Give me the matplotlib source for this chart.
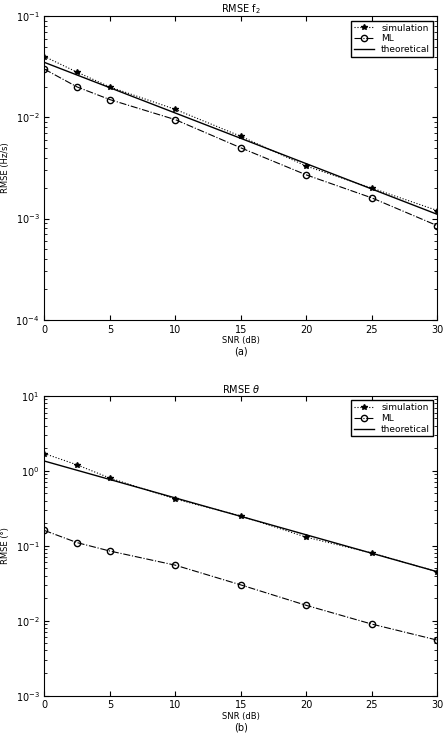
import matplotlib.pyplot as plt

snr = [0, 2.5, 5, 10, 15, 20, 25, 30]
snr_theo = [0, 30]

# top panel: RMSE f2
sim_f = [0.04, 0.028, 0.02, 0.012, 0.0065, 0.0033, 0.002, 0.0012]
ml_f = [0.03, 0.02, 0.015, 0.0095, 0.005, 0.0027, 0.0016, 0.00085]
theo_f = [0.035, 0.0011]

# bottom panel: RMSE theta
sim_t = [1.7, 1.2, 0.8, 0.42, 0.25, 0.13, 0.08, 0.045]
ml_t = [0.16, 0.11, 0.085, 0.055, 0.03, 0.016, 0.009, 0.0055]
theo_t = [1.35, 0.045]

plt.rcParams['font.family'] = 'DejaVu Sans'
plt.rcParams['font.size'] = 7

fig = plt.figure(figsize=(4.44, 7.40), dpi=100)
ax1 = fig.add_axes([0.10, 0.568, 0.885, 0.41])
ax2 = fig.add_axes([0.10, 0.06, 0.885, 0.405])

def panel(ax, sim, ml, theo, ylim, title, ylabel, xlabel, tag):
    ax.semilogy(snr, sim, 'k*:', ms=4, lw=0.8, label='simulation')
    ax.semilogy(snr, ml, 'ko-.', ms=4.5, mfc='none', lw=0.8, label='ML')
    ax.semilogy(snr_theo, theo, 'k-', lw=1.0, label='theoretical')
    ax.set_xlim(0, 30)
    ax.set_ylim(*ylim)
    ax.set_xticks([0, 5, 10, 15, 20, 25, 30])
    ax.set_title(title, fontsize=7, pad=2)
    ax.set_ylabel(ylabel, fontsize=6)
    ax.set_xlabel(xlabel, fontsize=6, labelpad=1)
    ax.tick_params(direction='in', which='both', top=True, right=True)
    ax.legend(loc='upper right', fontsize=6.5, handlelength=2.2,
              borderpad=0.3, labelspacing=0.2, framealpha=1, edgecolor='k',
              fancybox=False)
    ax.text(0.5, -0.115, tag, transform=ax.transAxes, ha='center', fontsize=7)

panel(ax1, sim_f, ml_f, theo_f, (1e-4, 1e-1), r'RMSE f$_2$', 'RMSE (Hz/s)', 'SNR (dB)', '(a)')
panel(ax2, sim_t, ml_t, theo_t, (1e-3, 1e1), r'RMSE $\theta$', 'RMSE (°)', 'SNR (dB)', '(b)')

fig.savefig('out.png', dpi=100)
